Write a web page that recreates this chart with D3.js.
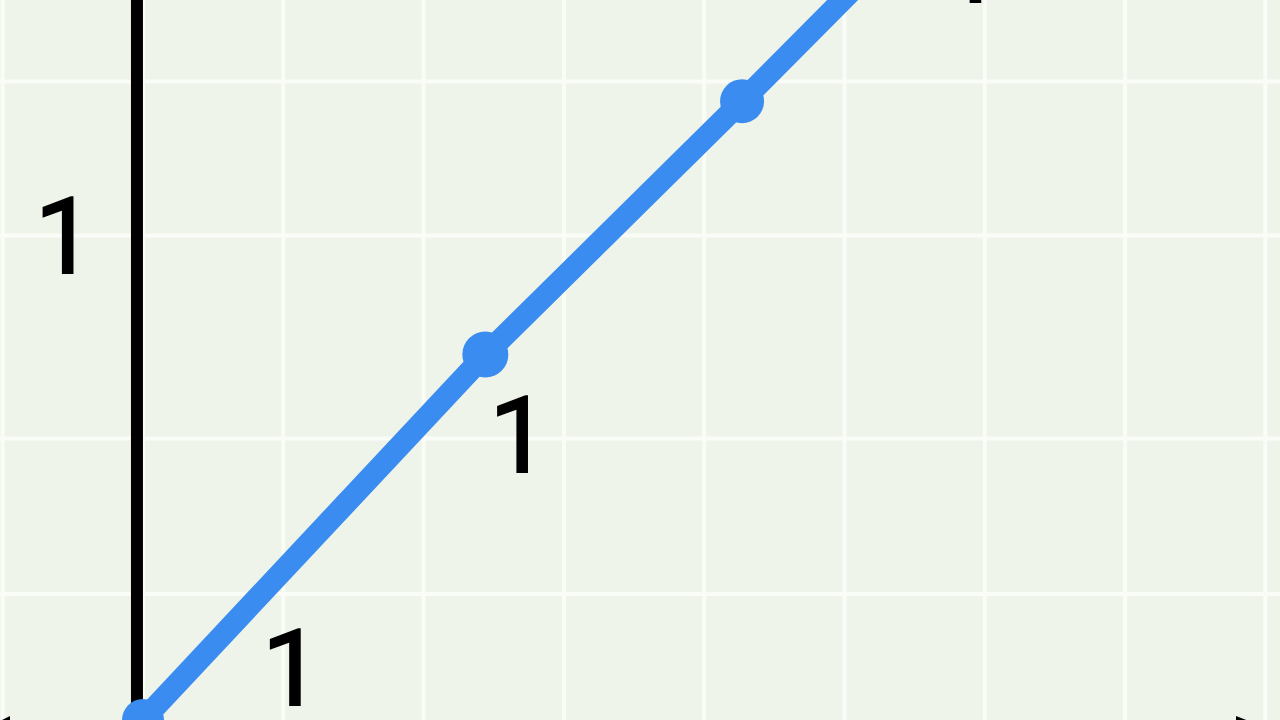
<!DOCTYPE html>
<html>
<head>
<meta charset="utf-8">
<script src="https://cdn.jsdelivr.net/npm/d3@7"></script>
<style>
  html, body { margin: 0; padding: 0; background: #eff4ea; overflow: hidden; }
  svg { display: block; }
</style>
</head>
<body>
<svg id="chart" width="1280" height="720"></svg>
<script>
// ======================
// 1. DATA
// ======================
const gridCols = [-1, 0, 1, 2, 3, 4, 5, 6, 7, 8];
const gridRows = [0.9, 2.01, 3.46, 4.56];

// blue line: points with dots, last one runs off the top
const lineX = [0, 2.44, 4.27, 5.4];
const lineY = [0, 2.61, 4.42, 5.56];
const dotCount = 3;
const dotRadius = [21, 23, 22];

// the "1" labels
const labelText = ["1", "1", "1", "1"];
const labelX = [-0.56, 2.68, 1.06, 5.91];
const labelY = [3.19, 1.77, 0.11, 5.13];

// ======================
// 2. SCALES
// ======================
const width = 1280, height = 720;
const x = d3.scaleLinear().domain([0, 1]).range([143, 283.3]);
const y = d3.scaleLinear().domain([0, 1]).range([720, 580]);

const svg = d3.select("#chart");

svg.append("rect")
  .attr("width", width)
  .attr("height", height)
  .attr("fill", "#eff4ea");

// ======================
// 3. GRID
// ======================
svg.append("g")
  .selectAll("line")
  .data(gridCols)
  .enter()
  .append("line")
  .attr("x1", d => x(d)).attr("x2", d => x(d))
  .attr("y1", 0).attr("y2", height)
  .attr("stroke", "#fafcf7")
  .attr("stroke-width", 4);

svg.append("g")
  .selectAll("line")
  .data(gridRows)
  .enter()
  .append("line")
  .attr("x1", 0).attr("x2", width)
  .attr("y1", d => y(d)).attr("y2", d => y(d))
  .attr("stroke", "#fafcf7")
  .attr("stroke-width", 4);

// ======================
// 4. AXES
// ======================
// vertical axis
svg.append("line")
  .attr("x1", x(-0.043)).attr("x2", x(-0.043))
  .attr("y1", y(0.08)).attr("y2", y(5.5))
  .attr("stroke", "#000")
  .attr("stroke-width", 12);

// horizontal axis sits just below the frame, only the arrow tips show
const axisY = y(-0.15);
svg.append("line")
  .attr("x1", -20).attr("x2", width + 20)
  .attr("y1", axisY).attr("y2", axisY)
  .attr("stroke", "#000")
  .attr("stroke-width", 12);

svg.append("path")
  .attr("d", `M${-40},${axisY} L10,${axisY - 25} L10,${axisY + 25} Z`)
  .attr("fill", "#000");
svg.append("path")
  .attr("d", `M${1300},${axisY} L1236,${axisY - 25} L1236,${axisY + 25} Z`)
  .attr("fill", "#000");

// ======================
// 5. LINE + DOTS
// ======================
const pts = lineX.map((d, i) => ({ u: d, v: lineY[i] }));

svg.append("path")
  .datum(pts)
  .attr("d", d3.line().x(d => x(d.u)).y(d => y(d.v)))
  .attr("fill", "none")
  .attr("stroke", "#3a8cf0")
  .attr("stroke-width", 22)
  .attr("stroke-linecap", "round")
  .attr("stroke-linejoin", "round");

svg.append("g")
  .selectAll("circle")
  .data(pts.slice(0, dotCount))
  .enter()
  .append("circle")
  .attr("cx", d => x(d.u))
  .attr("cy", d => y(d.v))
  .attr("r", (d, i) => dotRadius[i])
  .attr("fill", "#3a8cf0");

// ======================
// 6. LABELS
// ======================
svg.append("g")
  .selectAll("text")
  .data(labelText)
  .enter()
  .append("text")
  .attr("x", (d, i) => x(labelX[i]))
  .attr("y", (d, i) => y(labelY[i]))
  .attr("text-anchor", "middle")
  .attr("font-family", "Roboto, 'Liberation Sans', Arial, sans-serif")
  .attr("font-size", 106)
  .attr("fill", "#000")
  .attr("stroke", "#000")
  .attr("stroke-width", 2)
  .text(d => d);
</script>
</body>
</html>
